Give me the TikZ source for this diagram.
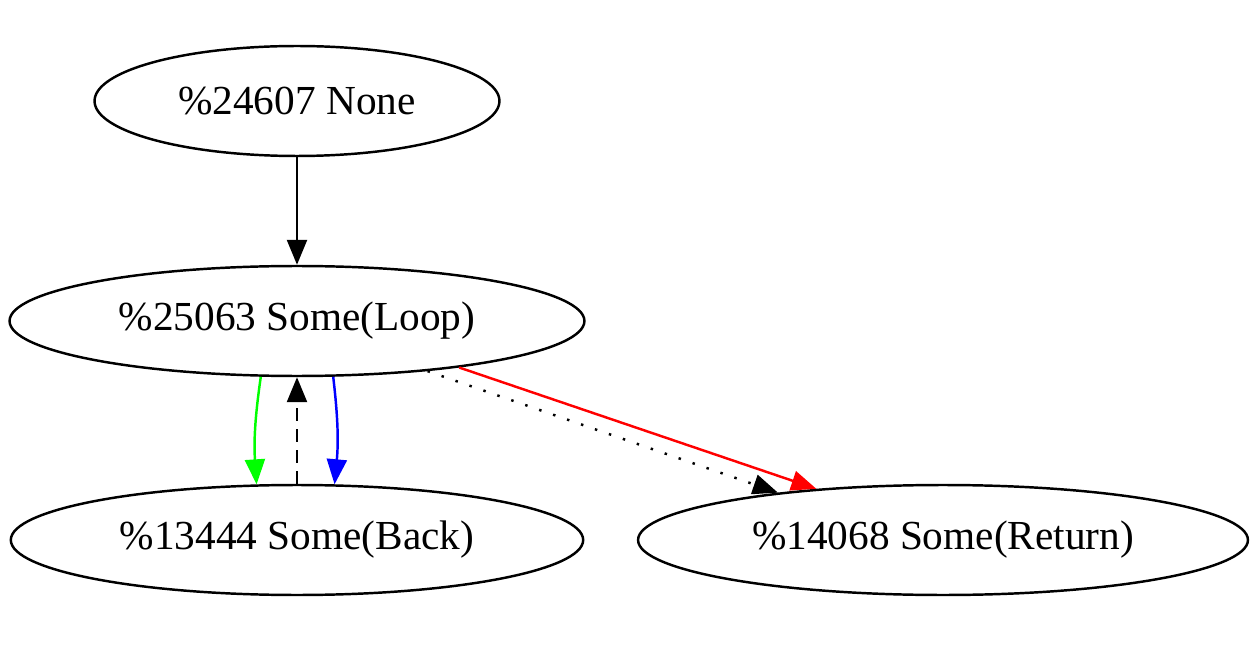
\documentclass[tikz,border=0pt]{standalone}
\usepackage{fontspec}
\setmainfont{Liberation Serif}
\usetikzlibrary{positioning,arrows.meta,shapes.geometric}

\begin{document}
\begin{tikzpicture}[
  x=0.02cm, y=0.02cm,
  state/.style={ellipse, draw, line width=1.4pt, inner sep=0pt,
    minimum height=2.2cm, font=\fontsize{23.5}{27}\selectfont},
  arr/.style={-{Triangle[length=0.5cm, width=0.4cm]}, line width=1.4pt}
]
  \useasboundingbox (0,0) rectangle (1258,650);

  \node[state, minimum width=8.1cm] (none) at (297,549) {\%24607 None};
  \node[state, minimum width=11.5cm] (loop) at (297,329) {\%25063 Some(Loop)};
  \node[state, minimum width=11.45cm] (back) at (297,110) {\%13444 Some(Back)};
  \node[state, minimum width=12.2cm] (ret) at (943,110) {\%14068 Some(Return)};

  \draw[arr] (none) -- (loop);
  \draw[arr, green] (loop.237) to[bend right=6] (back.126);
  \draw[arr, dash pattern=on 7pt off 5pt] (back.90) -- (loop.270);
  \draw[arr, blue] (loop.303) to[bend left=6] (back.56);
  \draw[arr, dash pattern=on 1.4pt off 7pt] (loop.-21) -- (ret.164.6);
  \draw[arr, red] (loop.-16.9) -- (ret.158.7);
\end{tikzpicture}
\end{document}
